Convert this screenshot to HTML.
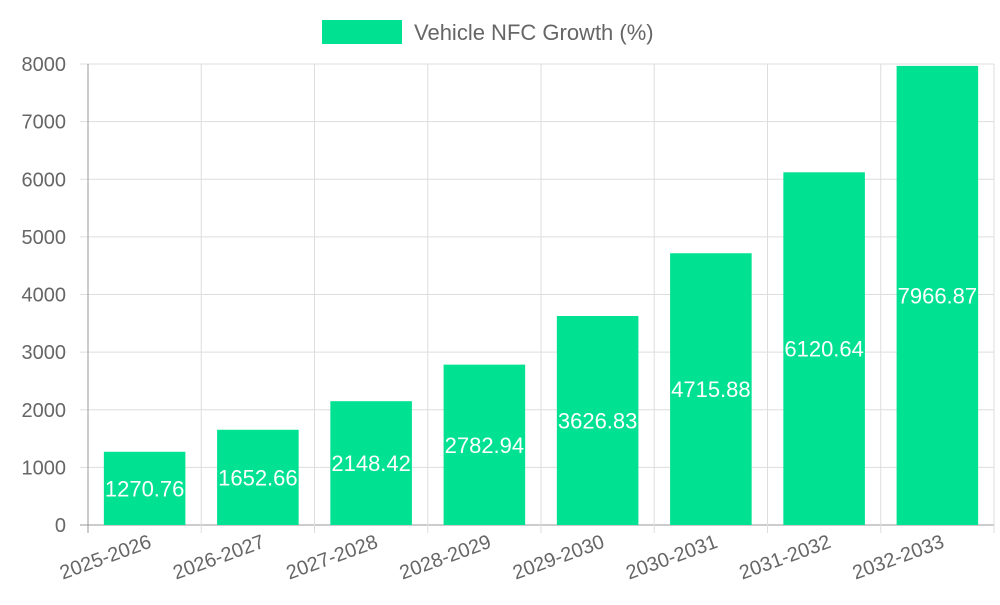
<!DOCTYPE html>
<html><head><meta charset="utf-8"><style>
body{margin:0;background:#fff;font-family:"Liberation Sans",sans-serif}
</style></head><body>
<svg id="c" width="1000" height="600" xmlns="http://www.w3.org/2000/svg" style="font-family:'Liberation Sans',sans-serif">
<g>
<rect x="322" y="20" width="80" height="24" fill="#00e191"/>
<text x="414" y="40" font-size="22" fill="#666">Vehicle NFC Growth (%)</text>
</g>
</svg>
<script>
const categories=["2025-2026","2026-2027","2027-2028","2028-2029","2029-2030","2030-2031","2031-2032","2032-2033"];
const values=[1270.76,1652.66,2148.42,2782.94,3626.83,4715.88,6120.64,7966.87];
const yTicks=[0,1000,2000,3000,4000,5000,6000,7000,8000];
const svg=document.getElementById('c');
const NS='http://www.w3.org/2000/svg';
const L=88,R=994,T=64,B=525,yMax=8000;
const bw=(R-L)/categories.length;
const y=v=>B-(v/yMax)*(B-T);
const x=i=>L+i*bw;
function mk(tag,attrs){const e=document.createElementNS(NS,tag);for(const k in attrs)e.setAttribute(k,attrs[k]);svg.appendChild(e);return e;}
yTicks.forEach(t=>{
 const g=mk('line',{x1:L-8,x2:R,y1:y(t),y2:y(t),stroke:t===0?'#999':'#ddd','stroke-width':1});
 
 
 const tx=mk('text',{x:66,y:y(t)+7,'font-size':20,fill:'#666','text-anchor':'end'});
 tx.textContent=t;
 
 
});
for(let i=0;i<=categories.length;i++){
 const g=mk('line',{x1:x(i),x2:x(i),y1:T,y2:B+8,stroke:i===0?'#999':'#ddd','stroke-width':1});
 
 
}
categories.forEach((c,i)=>{
 const w=bw*0.72, cx=x(i)+bw/2;
 const r=mk('rect',{x:cx-w/2,y:y(values[i]),width:w,height:B-y(values[i]),fill:'#00e191'});
 
 
 const v=mk('text',{x:cx,y:(y(values[i])+B)/2+8,'font-size':22,fill:'#fff','text-anchor':'middle'});
 v.textContent=values[i].toFixed(2);
 
 
 const lx=x(i)+bw/2+8, ly=B+22;
 const t=mk('text',{x:lx,y:ly,'font-size':20,fill:'#666','text-anchor':'end',transform:`rotate(-20 ${lx} ${ly})`});
 t.textContent=c;
 
 
});
</script>
</body></html>
